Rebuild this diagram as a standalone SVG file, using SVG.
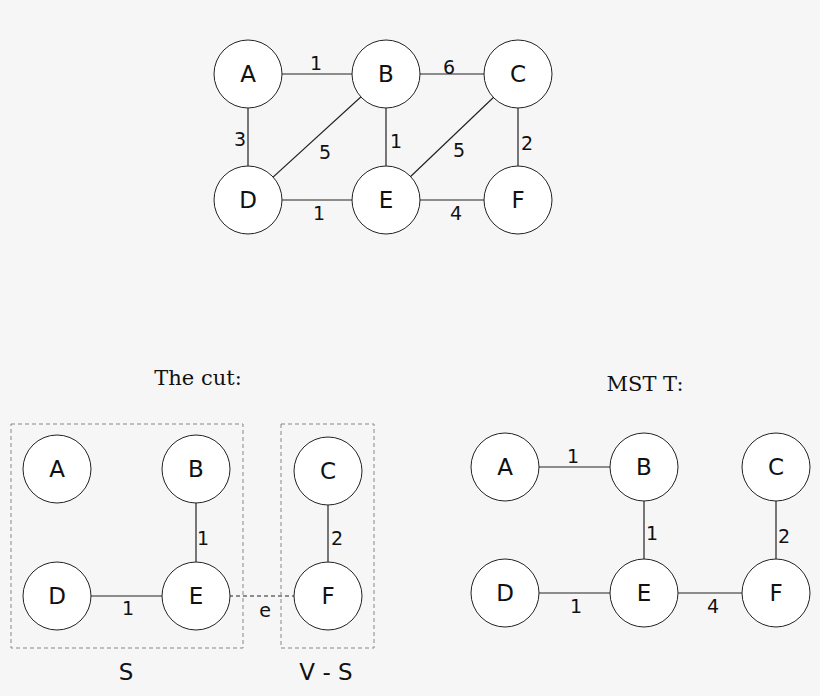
<svg xmlns="http://www.w3.org/2000/svg" width="820" height="696" viewBox="0 0 820 696">
<style>
.n{fill:#fff;stroke:#222;stroke-width:1}
.l{font-family:"DejaVu Sans",sans-serif;font-size:23px;text-anchor:middle;dominant-baseline:central;fill:#111}
.w{font-family:"DejaVu Sans",sans-serif;font-size:19px;text-anchor:middle;dominant-baseline:central;fill:#111}
.t{font-family:"DejaVu Serif",serif;font-size:21px;text-anchor:middle;fill:#111}
.e{stroke:#222;stroke-width:1.2;fill:none}
.d{stroke:#888;stroke-width:1;stroke-dasharray:4,3;fill:none}
</style>
<rect width="820" height="696" fill="#f6f6f6"/>
<g id="connectors">
<line class="e" x1="248" y1="74" x2="386" y2="74"/>
<line class="e" x1="386" y1="74" x2="518" y2="74"/>
<line class="e" x1="248" y1="74" x2="248" y2="200"/>
<line class="e" x1="386" y1="74" x2="248" y2="200"/>
<line class="e" x1="386" y1="74" x2="386" y2="200"/>
<line class="e" x1="518" y1="74" x2="386" y2="200"/>
<line class="e" x1="518" y1="74" x2="518" y2="200"/>
<line class="e" x1="248" y1="200" x2="518" y2="200"/>
<line class="e" x1="196" y1="469" x2="196" y2="596"/>
<line class="e" x1="328" y1="471" x2="328" y2="596"/>
<line class="e" x1="57" y1="596" x2="196" y2="596"/>
<line class="e" x1="229" y1="596" x2="295" y2="596" stroke-dasharray="4,3"/>
<line class="e" x1="505" y1="467" x2="644" y2="467"/>
<line class="e" x1="644" y1="467" x2="644" y2="593"/>
<line class="e" x1="776" y1="467" x2="776" y2="593"/>
<line class="e" x1="505" y1="593" x2="776" y2="593"/>
</g>
<g id="weights">
<text class="w" x="316" y="63">1</text><text class="w" x="449" y="67">6</text>
<text class="w" x="240" y="139">3</text><text class="w" x="325" y="152">5</text>
<text class="w" x="396" y="141">1</text><text class="w" x="459" y="150">5</text>
<text class="w" x="527" y="143">2</text><text class="w" x="319" y="213">1</text>
<text class="w" x="456" y="213">4</text>
<text class="w" x="203" y="538">1</text><text class="w" x="337" y="538">2</text>
<text class="w" x="128" y="608">1</text><text class="w" x="265" y="610">e</text>
<text class="w" x="573" y="456">1</text><text class="w" x="652" y="533">1</text>
<text class="w" x="784" y="536">2</text><text class="w" x="576" y="606">1</text>
<text class="w" x="713" y="606">4</text>
</g>
<g id="boxes">
<rect class="d" x="11" y="424" width="232" height="224"/>
<rect class="d" x="281" y="424" width="93" height="224"/>
</g>
<g id="titles">
<text class="t" x="198" y="385">The cut:</text>
<text class="t" x="645" y="391">MST T:</text>
<text class="l" x="126" y="672">S</text>
<text class="l" x="326" y="672">V - S</text>
</g>
<g id="tA"><circle class="n" cx="248" cy="74" r="34"/><text class="l" x="248" y="74">A</text></g>
<g id="tB"><circle class="n" cx="386" cy="74" r="34"/><text class="l" x="386" y="74">B</text></g>
<g id="tC"><circle class="n" cx="518" cy="74" r="34"/><text class="l" x="518" y="74">C</text></g>
<g id="tD"><circle class="n" cx="248" cy="200" r="34"/><text class="l" x="248" y="200">D</text></g>
<g id="tE"><circle class="n" cx="386" cy="200" r="34"/><text class="l" x="386" y="200">E</text></g>
<g id="tF"><circle class="n" cx="518" cy="200" r="34"/><text class="l" x="518" y="200">F</text></g>
<g id="cA"><circle class="n" cx="57" cy="469" r="34"/><text class="l" x="57" y="469">A</text></g>
<g id="cB"><circle class="n" cx="196" cy="469" r="34"/><text class="l" x="196" y="469">B</text></g>
<g id="cC"><circle class="n" cx="328" cy="471" r="34"/><text class="l" x="328" y="471">C</text></g>
<g id="cD"><circle class="n" cx="57" cy="596" r="34"/><text class="l" x="57" y="596">D</text></g>
<g id="cE"><circle class="n" cx="196" cy="596" r="34"/><text class="l" x="196" y="596">E</text></g>
<g id="cF"><circle class="n" cx="328" cy="596" r="34"/><text class="l" x="328" y="596">F</text></g>
<g id="mA"><circle class="n" cx="505" cy="467" r="34"/><text class="l" x="505" y="467">A</text></g>
<g id="mB"><circle class="n" cx="644" cy="467" r="34"/><text class="l" x="644" y="467">B</text></g>
<g id="mC"><circle class="n" cx="776" cy="467" r="34"/><text class="l" x="776" y="467">C</text></g>
<g id="mD"><circle class="n" cx="505" cy="593" r="34"/><text class="l" x="505" y="593">D</text></g>
<g id="mE"><circle class="n" cx="644" cy="593" r="34"/><text class="l" x="644" y="593">E</text></g>
<g id="mF"><circle class="n" cx="776" cy="593" r="34"/><text class="l" x="776" y="593">F</text></g>
</svg>
